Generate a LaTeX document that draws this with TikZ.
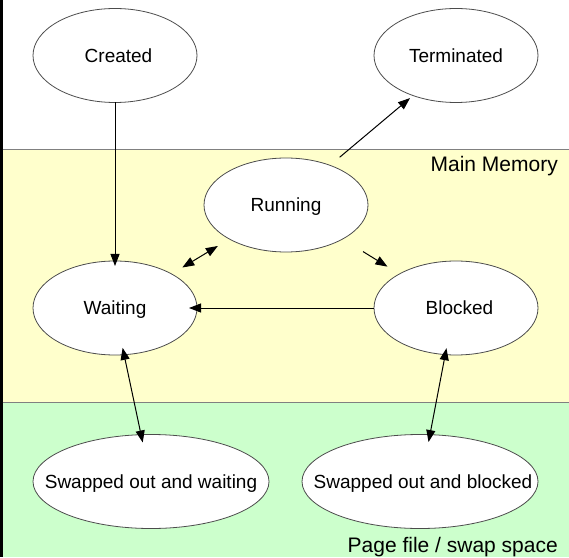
\documentclass[tikz,border=0pt]{standalone}
\usepackage{fontspec}
\setmainfont{Liberation Sans}
\usetikzlibrary{shapes,arrows.meta}

\definecolor{memyellow}{HTML}{FFFFCC}
\definecolor{swapgreen}{HTML}{CCFFCC}

\begin{document}
\begin{tikzpicture}[x=1pt,y=1pt]
	\tikzstyle{every node}=[font=\fontsize{19}{22}\selectfont]
	\tikzstyle{state}=[ellipse, draw=black!70, line width=0.8pt, fill=white, minimum width=164pt, minimum height=94pt, inner sep=0pt, outer sep=0pt, text height=13.5pt, text depth=0pt]
	\tikzstyle{swapstate}=[state, minimum width=236pt]
	\tikzstyle{conn}=[line width=1pt, -{Triangle[length=12pt,width=9pt]}]
	\tikzstyle{both}=[line width=1pt, {Triangle[length=12pt,width=9pt]}-{Triangle[length=12pt,width=9pt]}]
	\tikzstyle{area}=[font=\fontsize{21}{24}\selectfont, anchor=base east, inner sep=0pt]
	\useasboundingbox (0,0) rectangle (569,557);
	
	% the three areas
	\fill[black] (0,0) rectangle (2.5,557);
	\fill[white] (2.5,407) rectangle (569,557);
	\fill[memyellow] (2.5,155) rectangle (569,407);
	\fill[swapgreen] (2.5,0) rectangle (569,155);
	\draw[gray, line width=1pt] (2.5,407) -- (569,407);
	\draw[gray, line width=1pt] (2.5,155) -- (569,155);
	\node[area] (mainmem) at (558,385) {Main Memory};
	\node[area] (swapspace) at (558,5) {Page file / swap space};
	
	% states
	\node[state] (Created) at (115,501.5) {\makebox[0pt]{\hspace{7pt}Created}};
	\node[state] (Terminated) at (456,501.5) {Terminated};
	\node[state] (Running) at (286,352) {Running};
	\node[state] (Waiting) at (115,249) {Waiting};
	\node[state] (Blocked) at (456,249) {\makebox[0pt]{\hspace{7pt}Blocked}};
	\node[swapstate] (SwapWait) at (151,75.5) {\makebox[0pt]{Swapped out and waiting}};
	\node[swapstate] (SwapBlock) at (420,75.5) {\makebox[0pt]{\hspace{6pt}Swapped out and blocked}};
	
	% transitions
	\draw[conn, shorten >=-5pt] (Created) -- (Waiting);
	\draw[conn, shorten <=12.5pt, shorten >=4pt] (Running.42) -- (Terminated.223);
	\draw[both, shorten <=13.5pt, shorten >=12.5pt] (Running.211) -- (Waiting.31);
	\draw[conn, shorten <=24pt, shorten >=14pt] (Running.-31) -- (Blocked.149);
	\draw[conn, shorten >=-8pt] (Blocked.west) -- (Waiting.east);
	\draw[both, shorten <=-7pt, shorten >=-8pt] (Waiting.-79) -- (SwapWait.102);
	\draw[both, shorten <=-6.5pt, shorten >=-7.5pt] (Blocked.-103) -- (SwapBlock.78);
	
\end{tikzpicture}
\end{document}
